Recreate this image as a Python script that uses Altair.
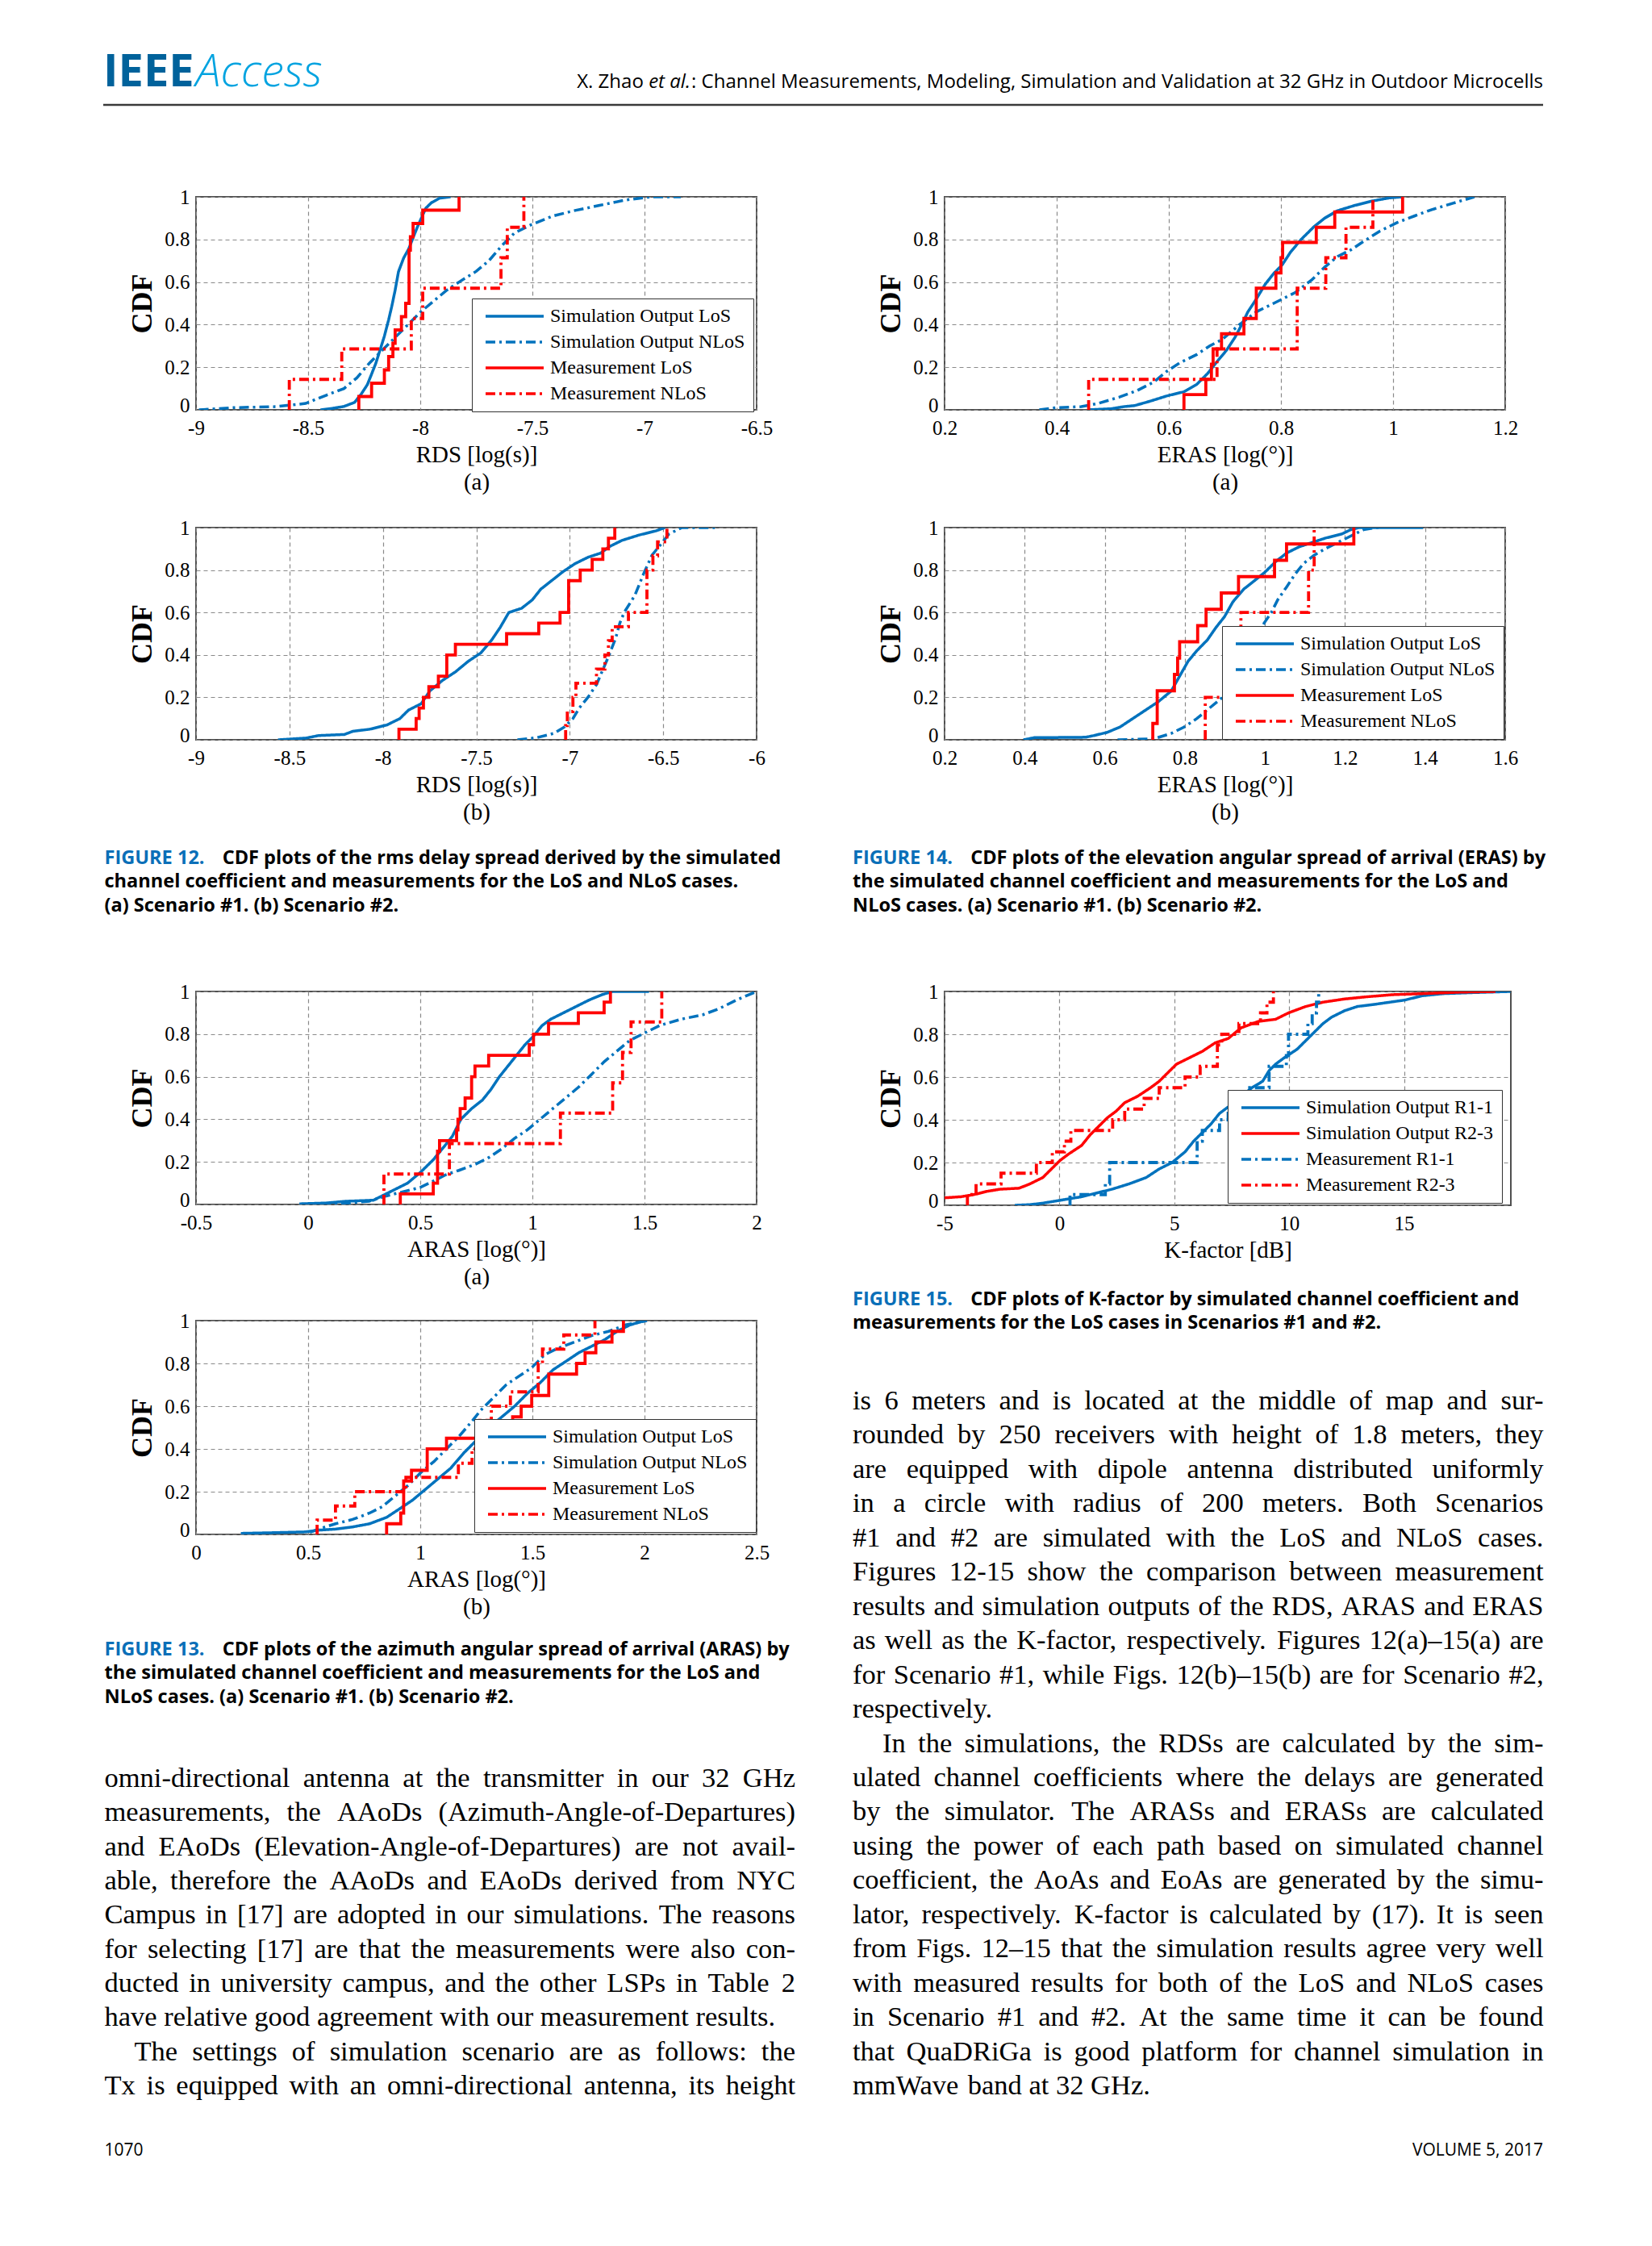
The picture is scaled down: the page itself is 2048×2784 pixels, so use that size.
import altair as alt
import pandas as pd

# ---------------------------------------------------------------- data
# Fig. 12(a)  RDS, scenario 1
s12a_los_x = [-8.445, -8.397, -8.340, -8.293, -8.264, -8.236, -8.217, -8.198, -8.179, -8.160, -8.141, -8.127, -8.112, -8.097, -8.074, -8.051, -8.032, -8.013, -7.994, -7.975, -7.951, -7.913, -7.865]
s12a_los_y = [0, 0.006, 0.016, 0.035, 0.073, 0.118, 0.168, 0.219, 0.282, 0.346, 0.423, 0.486, 0.562, 0.649, 0.713, 0.757, 0.808, 0.858, 0.903, 0.947, 0.972, 0.994, 1.0]
s12a_nlos_x = [-8.987, -8.835, -8.644, -8.511, -8.416, -8.340, -8.283, -8.226, -8.169, -8.112, -8.055, -7.998, -7.941, -7.884, -7.827, -7.751, -7.694, -7.637, -7.580, -7.504, -7.409, -7.314, -7.200, -7.086, -6.971, -6.838]
s12a_nlos_y = [0, 0.01, 0.015, 0.03, 0.07, 0.10, 0.15, 0.22, 0.28, 0.34, 0.40, 0.46, 0.51, 0.56, 0.60, 0.65, 0.70, 0.77, 0.83, 0.87, 0.91, 0.935, 0.96, 0.985, 1.0, 1.0]
m12a_los_x = [-8.274, -8.217, -8.160, -8.141, -8.122, -8.112, -8.084, -8.065, -8.050, -8.044, -8.032, -7.989, -7.827]
m12a_los_y = [0.0625, 0.125, 0.1875, 0.25, 0.3125, 0.375, 0.4375, 0.5, 0.75, 0.8125, 0.875, 0.9375, 1.0]
m12a_nlos_x = [-8.584, -8.350, -8.040, -7.989, -7.640, -7.612, -7.538]
m12a_nlos_y = [0.143, 0.286, 0.429, 0.571, 0.714, 0.857, 1.0]

# Fig. 12(b)  RDS, scenario 2
s12b_los_x = [-8.561, -8.412, -8.344, -8.206, -8.161, -8.069, -7.978, -7.909, -7.863, -7.795, -7.749, -7.681, -7.612, -7.543, -7.475, -7.418, -7.372, -7.326, -7.257, -7.200, -7.155, -7.097, -7.040, -6.972, -6.903, -6.834, -6.789, -6.720, -6.629, -6.537, -6.491]
s12b_los_y = [0, 0.008, 0.02, 0.025, 0.04, 0.05, 0.07, 0.10, 0.14, 0.17, 0.23, 0.28, 0.32, 0.37, 0.41, 0.47, 0.53, 0.60, 0.62, 0.66, 0.71, 0.75, 0.79, 0.83, 0.86, 0.88, 0.91, 0.94, 0.965, 0.985, 1.0]
s12b_nlos_x = [-7.280, -7.177, -7.086, -7.029, -6.983, -6.949, -6.903, -6.857, -6.823, -6.789, -6.754, -6.732, -6.709, -6.652, -6.606, -6.560, -6.514, -6.469, -6.400, -6.217]
s12b_nlos_y = [0, 0.01, 0.03, 0.06, 0.10, 0.15, 0.20, 0.26, 0.33, 0.40, 0.48, 0.55, 0.60, 0.68, 0.78, 0.87, 0.92, 0.97, 1.0, 1.0]
m12b_los_x = [-7.914, -7.822, -7.806, -7.783, -7.754, -7.703, -7.658, -7.612, -7.338, -7.166, -7.052, -7.006, -6.944, -6.880, -6.823, -6.793, -6.759]
m12b_los_y = [0.05, 0.10, 0.15, 0.20, 0.25, 0.30, 0.40, 0.45, 0.50, 0.55, 0.60, 0.75, 0.80, 0.85, 0.90, 0.95, 1.0]
m12b_nlos_x = [-7.022, -7.013, -6.983, -6.967, -6.857, -6.812, -6.793, -6.773, -6.686, -6.587, -6.555, -6.530, -6.480]
m12b_nlos_y = [0.067, 0.133, 0.2, 0.267, 0.333, 0.4, 0.467, 0.533, 0.6, 0.8, 0.867, 0.933, 1.0]

# Fig. 14(a)  ERAS, scenario 1
s14a_los_x = [0.455, 0.497, 0.520, 0.539, 0.566, 0.596, 0.627, 0.650, 0.669, 0.684, 0.703, 0.718, 0.730, 0.741, 0.756, 0.772, 0.787, 0.802, 0.817, 0.836, 0.859, 0.878, 0.901, 0.932, 0.962, 0.993, 1.016]
s14a_los_y = [0, 0.005, 0.015, 0.02, 0.04, 0.065, 0.085, 0.12, 0.17, 0.22, 0.28, 0.34, 0.40, 0.46, 0.52, 0.59, 0.64, 0.68, 0.74, 0.80, 0.86, 0.90, 0.935, 0.96, 0.98, 0.995, 1.0]
s14a_nlos_x = [0.369, 0.398, 0.444, 0.474, 0.512, 0.543, 0.573, 0.596, 0.619, 0.650, 0.673, 0.695, 0.726, 0.756, 0.787, 0.825, 0.855, 0.878, 0.901, 0.924, 0.947, 0.977, 1.008, 1.038, 1.069, 1.107, 1.145]
s14a_nlos_y = [0, 0.01, 0.015, 0.03, 0.06, 0.09, 0.13, 0.18, 0.22, 0.26, 0.30, 0.33, 0.40, 0.46, 0.50, 0.55, 0.61, 0.67, 0.72, 0.75, 0.79, 0.84, 0.88, 0.91, 0.94, 0.97, 1.0]
m14a_los_x = [0.627, 0.666, 0.676, 0.679, 0.694, 0.734, 0.756, 0.791, 0.800, 0.803, 0.863, 0.896, 1.017]
m14a_los_y = [0.0714, 0.143, 0.214, 0.286, 0.357, 0.429, 0.571, 0.643, 0.714, 0.786, 0.857, 0.929, 1.0]
m14a_nlos_x = [0.457, 0.686, 0.829, 0.880, 0.916, 0.964]
m14a_nlos_y = [0.143, 0.286, 0.571, 0.714, 0.857, 1.0]

# Fig. 14(b)  ERAS, scenario 2
s14b_los_x = [0.397, 0.424, 0.552, 0.573, 0.606, 0.638, 0.670, 0.702, 0.734, 0.766, 0.787, 0.808, 0.830, 0.856, 0.878, 0.899, 0.920, 0.947, 0.974, 1.000, 1.027, 1.054, 1.086, 1.118, 1.150, 1.192, 1.214, 1.235, 1.395]
s14b_los_y = [0, 0.01, 0.012, 0.02, 0.035, 0.06, 0.10, 0.14, 0.18, 0.23, 0.30, 0.37, 0.42, 0.47, 0.53, 0.58, 0.65, 0.71, 0.75, 0.79, 0.84, 0.88, 0.91, 0.93, 0.95, 0.97, 0.99, 1.0, 1.0]
s14b_nlos_x = [0.632, 0.723, 0.766, 0.798, 0.830, 0.862, 0.894, 0.936, 0.968, 0.998, 1.016, 1.032, 1.054, 1.075, 1.096, 1.123, 1.150, 1.182, 1.214, 1.246, 1.278, 1.288]
s14b_nlos_y = [0, 0.005, 0.03, 0.06, 0.10, 0.15, 0.20, 0.30, 0.42, 0.55, 0.60, 0.66, 0.72, 0.78, 0.83, 0.87, 0.90, 0.93, 0.96, 0.99, 1.0, 1.0]
m14b_los_x = [0.720, 0.731, 0.774, 0.782, 0.787, 0.832, 0.853, 0.891, 0.934, 1.024, 1.054, 1.222]
m14b_los_y = [0.077, 0.231, 0.308, 0.385, 0.462, 0.538, 0.615, 0.692, 0.769, 0.846, 0.923, 1.0]
m14b_nlos_x = [0.851, 0.940, 1.109, 1.123]
m14b_nlos_y = [0.2, 0.6, 0.8, 1.0]

# Fig. 13(a)  ARAS, scenario 1
s13a_los_x = [-0.039, 0.081, 0.167, 0.291, 0.329, 0.386, 0.443, 0.500, 0.558, 0.605, 0.643, 0.681, 0.729, 0.777, 0.815, 0.853, 0.891, 0.929, 0.967, 1.005, 1.043, 1.082, 1.139, 1.196, 1.253, 1.310, 1.358, 1.520]
s13a_los_y = [0.003, 0.007, 0.015, 0.02, 0.04, 0.07, 0.10, 0.15, 0.21, 0.27, 0.32, 0.40, 0.45, 0.49, 0.54, 0.60, 0.65, 0.70, 0.75, 0.79, 0.84, 0.87, 0.90, 0.93, 0.96, 0.985, 1.0, 1.0]
s13a_nlos_x = [-0.033, 0.157, 0.272, 0.348, 0.424, 0.500, 0.558, 0.615, 0.672, 0.748, 0.805, 0.862, 0.920, 0.977, 1.034, 1.091, 1.148, 1.205, 1.263, 1.320, 1.377, 1.434, 1.491, 1.567, 1.663, 1.758, 1.834, 1.910, 2.000]
s13a_nlos_y = [0, 0.005, 0.015, 0.04, 0.06, 0.08, 0.11, 0.14, 0.16, 0.19, 0.22, 0.26, 0.31, 0.35, 0.40, 0.45, 0.50, 0.55, 0.61, 0.67, 0.72, 0.77, 0.80, 0.84, 0.87, 0.89, 0.92, 0.96, 1.0]
m13a_los_x = [0.411, 0.558, 0.577, 0.586, 0.662, 0.668, 0.678, 0.700, 0.729, 0.744, 0.805, 0.986, 1.005, 1.072, 1.205, 1.320, 1.348]
m13a_los_y = [0.05, 0.10, 0.25, 0.30, 0.35, 0.40, 0.45, 0.50, 0.60, 0.65, 0.70, 0.75, 0.80, 0.85, 0.90, 0.95, 1.0]
m13a_nlos_x = [0.338, 0.630, 1.125, 1.358, 1.402, 1.440, 1.577]
m13a_nlos_y = [0.143, 0.286, 0.429, 0.571, 0.714, 0.857, 1.0]

# Fig. 13(b)  ARAS, scenario 2
s13b_los_x = [0.200, 0.337, 0.489, 0.546, 0.622, 0.698, 0.774, 0.850, 0.908, 0.965, 1.022, 1.079, 1.136, 1.193, 1.250, 1.307, 1.364, 1.421, 1.478, 1.535, 1.592, 1.650, 1.707, 1.764, 1.821, 1.878, 1.935, 2.002]
s13b_los_y = [0.005, 0.008, 0.012, 0.02, 0.025, 0.035, 0.05, 0.08, 0.12, 0.16, 0.21, 0.26, 0.31, 0.38, 0.44, 0.50, 0.55, 0.60, 0.66, 0.71, 0.77, 0.81, 0.85, 0.88, 0.91, 0.95, 0.98, 1.0]
s13b_nlos_x = [0.508, 0.546, 0.622, 0.698, 0.774, 0.831, 0.888, 0.946, 1.003, 1.060, 1.117, 1.174, 1.231, 1.269, 1.326, 1.383, 1.440, 1.497, 1.554, 1.611, 1.688, 1.764, 1.840, 1.916, 2.011]
s13b_nlos_y = [0.01, 0.025, 0.05, 0.07, 0.10, 0.13, 0.18, 0.23, 0.29, 0.34, 0.40, 0.46, 0.53, 0.58, 0.64, 0.70, 0.74, 0.78, 0.84, 0.87, 0.90, 0.93, 0.95, 0.98, 1.0]
m13b_los_x = [0.850, 0.913, 0.926, 0.961, 1.031, 1.117, 1.250, 1.412, 1.450, 1.497, 1.573, 1.697, 1.735, 1.783, 1.855, 1.906]
m13b_los_y = [0.05, 0.10, 0.25, 0.30, 0.40, 0.45, 0.50, 0.55, 0.60, 0.65, 0.75, 0.80, 0.85, 0.90, 0.95, 1.0]
m13b_nlos_x = [0.540, 0.622, 0.708, 0.936, 1.170, 1.231, 1.250, 1.265, 1.317, 1.402, 1.526, 1.545, 1.640, 1.779]
m13b_nlos_y = [0.067, 0.133, 0.2, 0.267, 0.333, 0.4, 0.467, 0.533, 0.6, 0.667, 0.8, 0.867, 0.933, 1.0]

# Fig. 15  K-factor
s15_r11_x = [-1.942, -1.285, -0.722, -0.159, 0.403, 0.966, 1.717, 2.280, 3.030, 3.780, 4.343, 4.906, 5.469, 5.844, 6.220, 6.595, 6.970, 7.345, 7.814, 8.377, 8.846, 9.128, 9.409, 9.784, 10.347, 10.722, 11.097, 11.473, 11.848, 12.411, 12.974, 13.724, 15.038, 15.788, 16.726, 18.039, 19.634]
s15_r11_y = [0, 0.003, 0.01, 0.02, 0.03, 0.04, 0.06, 0.075, 0.10, 0.13, 0.17, 0.20, 0.25, 0.30, 0.34, 0.38, 0.43, 0.46, 0.50, 0.55, 0.58, 0.63, 0.66, 0.69, 0.73, 0.77, 0.81, 0.85, 0.88, 0.91, 0.93, 0.94, 0.96, 0.98, 0.99, 0.995, 1.0]
s15_r23_x = [-5.0, -4.287, -3.724, -3.161, -2.598, -1.754, -1.285, -0.722, -0.347, 0.028, 0.403, 0.966, 1.341, 1.717, 2.092, 2.467, 2.842, 3.405, 3.968, 4.343, 4.718, 5.094, 5.657, 6.220, 6.782, 7.345, 7.908, 8.659, 9.409, 9.972, 10.722, 11.473, 12.411, 13.349, 14.475, 15.788, 17.477, 18.977]
s15_r23_y = [0.035, 0.04, 0.05, 0.065, 0.075, 0.08, 0.10, 0.13, 0.17, 0.21, 0.24, 0.28, 0.33, 0.37, 0.41, 0.44, 0.48, 0.51, 0.55, 0.58, 0.62, 0.66, 0.69, 0.72, 0.76, 0.78, 0.83, 0.86, 0.87, 0.90, 0.93, 0.95, 0.965, 0.975, 0.985, 0.99, 0.997, 1.0]
m15_r11_x = [0.460, 1.998, 2.186, 5.994, 6.220, 6.970, 7.345, 7.908, 8.283, 9.128, 9.878, 9.972, 10.816, 11.003, 11.191, 11.285]
m15_r11_y = [0.05, 0.10, 0.20, 0.30, 0.35, 0.40, 0.45, 0.50, 0.55, 0.65, 0.70, 0.80, 0.85, 0.90, 0.95, 1.0]
m15_r23_x = [-4.006, -3.630, -2.542, -1.004, -0.310, 0.216, 0.497, 2.317, 2.842, 3.687, 4.343, 5.469, 6.126, 6.876, 7.064, 7.814, 8.752, 9.034, 9.315]
m15_r23_y = [0.05, 0.10, 0.15, 0.20, 0.25, 0.30, 0.35, 0.40, 0.45, 0.50, 0.55, 0.60, 0.65, 0.75, 0.80, 0.85, 0.90, 0.95, 1.0]

# axis ticks / titles
ticks_12a = [-9, -8.5, -8, -7.5, -7, -6.5]
ticks_12b = [-9, -8.5, -8, -7.5, -7, -6.5, -6]
ticks_14a = [0.2, 0.4, 0.6, 0.8, 1, 1.2]
ticks_14b = [0.2, 0.4, 0.6, 0.8, 1, 1.2, 1.4, 1.6]
ticks_13a = [-0.5, 0, 0.5, 1, 1.5, 2]
ticks_13b = [0, 0.5, 1, 1.5, 2, 2.5]
ticks_15 = [-5, 0, 5, 10, 15]
ticks_cdf = [0, 0.2, 0.4, 0.6, 0.8, 1]

names_los = ["Simulation Output LoS", "Simulation Output NLoS", "Measurement LoS", "Measurement NLoS"]
names_k = ["Simulation Output R1-1", "Simulation Output R2-3", "Measurement R1-1", "Measurement R2-3"]

# ---------------------------------------------------------------- text
HEAD_AUTHOR = "X. Zhao"
HEAD_ETAL = "et al."
HEAD_REST = ": Channel Measurements, Modeling, Simulation and Validation at 32 GHz in Outdoor Microcells"
FOOT_PAGE = "1070"
FOOT_VOL = "VOLUME 5, 2017"

CAP12 = ["FIGURE 12.", "CDF plots of the rms delay spread derived by the simulated",
         "channel coefficient and measurements for the LoS and NLoS cases.",
         "(a) Scenario #1. (b) Scenario #2."]
CAP14 = ["FIGURE 14.", "CDF plots of the elevation angular spread of arrival (ERAS) by",
         "the simulated channel coefficient and measurements for the LoS and",
         "NLoS cases. (a) Scenario #1. (b) Scenario #2."]
CAP13 = ["FIGURE 13.", "CDF plots of the azimuth angular spread of arrival (ARAS) by",
         "the simulated channel coefficient and measurements for the LoS and",
         "NLoS cases. (a) Scenario #1. (b) Scenario #2."]
CAP15 = ["FIGURE 15.", "CDF plots of K-factor by simulated channel coefficient and",
         "measurements for the LoS cases in Scenarios #1 and #2."]

LEFT_TEXT = [
    ("omni-directional antenna at the transmitter in our 32 GHz", True),
    ("measurements, the AAoDs (Azimuth-Angle-of-Departures)", True),
    ("and EAoDs (Elevation-Angle-of-Departures) are not avail-", True),
    ("able, therefore the AAoDs and EAoDs derived from NYC", True),
    ("Campus in [17] are adopted in our simulations. The reasons", True),
    ("for selecting [17] are that the measurements were also con-", True),
    ("ducted in university campus, and the other LSPs in Table 2", True),
    ("have relative good agreement with our measurement results.", False),
    ("\tThe settings of simulation scenario are as follows: the", True),
    ("Tx is equipped with an omni-directional antenna, its height", True),
]
RIGHT_TEXT = [
    ("is 6 meters and is located at the middle of map and sur-", True),
    ("rounded by 250 receivers with height of 1.8 meters, they", True),
    ("are equipped with dipole antenna distributed uniformly", True),
    ("in a circle with radius of 200 meters. Both Scenarios", True),
    ("#1 and #2 are simulated with the LoS and NLoS cases.", True),
    ("Figures 12-15 show the comparison between measurement", True),
    ("results and simulation outputs of the RDS, ARAS and ERAS", True),
    ("as well as the K-factor, respectively. Figures 12(a)\u201315(a) are", True),
    ("for Scenario #1, while Figs. 12(b)\u201315(b) are for Scenario #2,", True),
    ("respectively.", False),
    ("\tIn the simulations, the RDSs are calculated by the sim-", True),
    ("ulated channel coefficients where the delays are generated", True),
    ("by the simulator. The ARASs and ERASs are calculated", True),
    ("using the power of each path based on simulated channel", True),
    ("coefficient, the AoAs and EoAs are generated by the simu-", True),
    ("lator, respectively. K-factor is calculated by (17). It is seen", True),
    ("from Figs. 12\u201315 that the simulation results agree very well", True),
    ("with measured results for both of the LoS and NLoS cases", True),
    ("in Scenario #1 and #2. At the same time it can be found", True),
    ("that QuaDRiGa is good platform for channel simulation in", True),
    ("mmWave band at 32 GHz.", False),
]

# ---------------------------------------------------------------- styles
BLUE = "#0072BD"
RED = "#FF0000"
SOLID = [1, 0]
DASHDOT = [12, 5, 3, 5]
SERIF = "Liberation Serif"
SANS = "Open Sans"
CAP_BLUE = "#0a6fb8"

# approximate font metrics (for text layout only)
OS_W = {' ': .26, '.': .266, ',': .245, ':': .266, '-': .322, '(': .296, ')': .296, '#': .646}
for c in "0123456789":
    OS_W[c] = .572
OS_W.update(dict(A=.633, B=.648, C=.631, D=.729, E=.556, F=.516, G=.728, H=.738, I=.279, J=.267, K=.614,
                 L=.519, M=.903, N=.754, O=.779, P=.602, Q=.779, R=.618, S=.549, T=.553, U=.728, V=.595,
                 W=.926, X=.577, Y=.56, Z=.571,
                 a=.556, b=.613, c=.476, d=.613, e=.561, f=.339, g=.548, h=.614, i=.253, j=.253, k=.525,
                 l=.253, m=.930, n=.614, o=.604, p=.613, q=.613, r=.408, s=.477, t=.353, u=.614, v=.501,
                 w=.778, x=.524, y=.502, z=.477))

TNR = {' ': 250, '!': 333, '#': 500, '(': 333, ')': 333, ',': 250, '-': 333, '.': 250, ':': 278, ';': 278,
       '[': 333, ']': 333, '\u2013': 500}
for c in "0123456789":
    TNR[c] = 500
TNR.update(dict(A=722, B=667, C=667, D=722, E=611, F=556, G=722, H=722, I=333, J=389, K=722, L=611, M=889,
                N=722, O=722, P=556, Q=722, R=667, S=556, T=611, U=722, V=722, W=944, X=722, Y=722, Z=611,
                a=444, b=500, c=444, d=500, e=444, f=333, g=500, h=500, i=278, j=278, k=500, l=278, m=778,
                n=500, o=500, p=500, q=500, r=333, s=389, t=278, u=500, v=500, w=722, x=500, y=500, z=444))


def os_em(s, bold=False, italic=False):
    f = 1.06 if bold else (0.96 if italic else 1.0)
    return sum(OS_W.get(ch, 0.55) for ch in s) * f


def tnr_px(s, size):
    return sum(TNR.get(ch, 500) for ch in s) / 1000.0 * size


# ---------------------------------------------------------------- helpers
def spacer(w, h):
    return alt.Chart(pd.DataFrame({'t': [' ']})).mark_text(
        opacity=0, fontSize=1, baseline='top', align='left').encode(
        text='t:N', x=alt.value(0), y=alt.value(0)).properties(width=w, height=h)


def text_layer(df, align='left', **kw):
    return alt.Chart(df).mark_text(align=align, baseline='alphabetic', **kw).encode(
        x=alt.X('x:Q', scale=None, axis=None),
        y=alt.Y('y:Q', scale=None, axis=None),
        text='t:N')


def lab_expr():
    return "datum.value + ''"


def cdf_chart(curves, names, colors, dashes, xdom, xticks, xtitle, width, height, legend_xy):
    rows = []
    for name, kind, xs, ys in curves:
        pts = ([(xs[0], 0.0)] if kind == 'meas' else []) + list(zip(xs, ys))
        for i, (a, b) in enumerate(pts):
            rows.append({'series': name, 'kind': kind, 'x': a, 'y': b, 'i': i})
    df = pd.DataFrame(rows)
    if legend_xy is not None:
        leg = alt.Legend(orient='none', legendX=legend_xy[0], legendY=legend_xy[1], title=None,
                         padding=10, symbolOffset=5, rowPadding=8, clipHeight=24,
                         labelFont=SERIF, labelFontSize=24, labelColor='black', labelLimit=600,
                         labelOffset=6, symbolType='stroke', symbolSize=5184, symbolStrokeWidth=3.5,
                         strokeColor='#333333', fillColor='white', cornerRadius=0)
    else:
        leg = None
    xaxis = alt.Axis(values=xticks, labelExpr=lab_expr(), grid=True, gridDash=[5, 4], gridColor='#8a8a8a',
                     gridWidth=1.2, domain=False, ticks=False, labelFont=SERIF, labelFontSize=25,
                     labelColor='black', labelPadding=10, labelFlush=False, labelOverlap=False,
                     title=xtitle, titleFont=SERIF, titleFontSize=29, titleFontWeight='normal',
                     titleColor='black', titlePadding=6, titleLineHeight=34)
    yaxis = alt.Axis(values=ticks_cdf, labelExpr=lab_expr(), grid=True, gridDash=[5, 4], gridColor='#8a8a8a',
                     gridWidth=1.2, domain=False, ticks=False, labelFont=SERIF, labelFontSize=25,
                     labelColor='black', labelPadding=8, labelFlush=False, labelOverlap=False,
                     labelOffset={'condition': {'test': 'datum.value == 0', 'value': -6}, 'value': 0},
                     title='CDF', titleFont=SERIF, titleFontSize=36, titleFontWeight='bold',
                     titleColor='black', titlePadding=8)
    base = alt.Chart(df).encode(
        x=alt.X('x:Q', scale=alt.Scale(domain=xdom, nice=False, zero=False), axis=xaxis),
        y=alt.Y('y:Q', scale=alt.Scale(domain=[0, 1], nice=False, zero=False), axis=yaxis),
        color=alt.Color('series:N', scale=alt.Scale(domain=names, range=colors), legend=leg),
        strokeDash=alt.StrokeDash('series:N', scale=alt.Scale(domain=names, range=dashes), legend=leg),
        order=alt.Order('i:Q'),
    )
    sim = base.transform_filter("datum.kind == 'sim'").mark_line(strokeWidth=3.5, clip=True)
    meas = base.transform_filter("datum.kind == 'meas'").mark_line(strokeWidth=3.8, interpolate='step-after',
                                                                  clip=True)
    return alt.layer(sim, meas).properties(width=width, height=height,
                                           view=alt.ViewBackground(stroke='#505050', strokeWidth=2))


def los_chart(sl, sn, ml, mn, xdom, xticks, xtitle, w, h, leg):
    curves = [(names_los[0], 'sim', sl[0], sl[1]), (names_los[1], 'sim', sn[0], sn[1]),
              (names_los[2], 'meas', ml[0], ml[1]), (names_los[3], 'meas', mn[0], mn[1])]
    return cdf_chart(curves, names_los, [BLUE, BLUE, RED, RED], [SOLID, DASHDOT, SOLID, DASHDOT],
                     xdom, xticks, xtitle, w, h, leg)


# caption font size from the measured line widths of the original
cap_targets = [(CAP12, 830), (CAP14, 852), (CAP13, 844), (CAP15, 819)]
cap_size = sum(t / (os_em(c[0], True) + 0.8 + os_em(c[1], True)) for c, t in cap_targets) / len(cap_targets)
CAP_LH = 29.3


def caption_layers(lines, x0, y0):
    pre = pd.DataFrame({'x': [x0], 'y': [y0], 't': [lines[0]]})
    xr = x0 + os_em(lines[0], True) * cap_size + 0.8 * cap_size
    rows = [{'x': xr, 'y': y0, 't': lines[1]}]
    for k, s in enumerate(lines[2:]):
        rows.append({'x': x0, 'y': y0 + (k + 1) * CAP_LH, 't': s})
    return [text_layer(pre, font=SANS, fontSize=cap_size, fontWeight='bold', color=CAP_BLUE),
            text_layer(pd.DataFrame(rows), font=SANS, fontSize=cap_size, fontWeight='bold', color='black')]


BODY_SIZE = 34.5
BODY_W = 856.5
INDENT = 37.0


def body_layers(lines, x0, y0, lh):
    lefts, rights = [], []
    for k, (txt, just) in enumerate(lines):
        ind = 0.0
        if txt.startswith('\t'):
            ind = INDENT
            txt = txt[1:]
        words = txt.split(' ')
        ww = [tnr_px(w, BODY_SIZE) for w in words]
        gap = 0.25 * BODY_SIZE
        if just and len(words) > 1:
            gap = max((BODY_W - ind - sum(ww)) / (len(words) - 1), 0.15 * BODY_SIZE)
        x = x0 + ind
        y = y0 + k * lh
        for j, (w, wd) in enumerate(zip(words, ww)):
            if just and j == len(words) - 1 and len(words) > 1:
                rights.append({'x': x0 + BODY_W, 'y': y, 't': w})
            else:
                lefts.append({'x': x, 'y': y, 't': w})
            x += wd + gap
    out = [text_layer(pd.DataFrame(lefts), font=SERIF, fontSize=BODY_SIZE, color='black')]
    if rights:
        out.append(text_layer(pd.DataFrame(rights), align='right', font=SERIF, fontSize=BODY_SIZE,
                              color='black'))
    return out


# ---------------------------------------------------------------- panels
f12a = los_chart((s12a_los_x, s12a_los_y), (s12a_nlos_x, s12a_nlos_y), (m12a_los_x, m12a_los_y),
                 (m12a_nlos_x, m12a_nlos_y), [-9, -6.5], ticks_12a, ["RDS [log(s)]", "(a)"], 695, 264, (342, 126))
f12b = los_chart((s12b_los_x, s12b_los_y), (s12b_nlos_x, s12b_nlos_y), (m12b_los_x, m12b_los_y),
                 (m12b_nlos_x, m12b_nlos_y), [-9, -6], ticks_12b, ["RDS [log(s)]", "(b)"], 695, 263, None)
f14a = los_chart((s14a_los_x, s14a_los_y), (s14a_nlos_x, s14a_nlos_y), (m14a_los_x, m14a_los_y),
                 (m14a_nlos_x, m14a_nlos_y), [0.2, 1.2], ticks_14a, ["ERAS [log(\u00b0)]", "(a)"], 695, 264, None)
f14b = los_chart((s14b_los_x, s14b_los_y), (s14b_nlos_x, s14b_nlos_y), (m14b_los_x, m14b_los_y),
                 (m14b_nlos_x, m14b_nlos_y), [0.2, 1.6], ticks_14b, ["ERAS [log(\u00b0)]", "(b)"], 695, 263, (344, 122))
f13a = los_chart((s13a_los_x, s13a_los_y), (s13a_nlos_x, s13a_nlos_y), (m13a_los_x, m13a_los_y),
                 (m13a_nlos_x, m13a_nlos_y), [-0.5, 2], ticks_13a, ["ARAS [log(\u00b0)]", "(a)"], 695, 264, None)
f13b = los_chart((s13b_los_x, s13b_los_y), (s13b_nlos_x, s13b_nlos_y), (m13b_los_x, m13b_los_y),
                 (m13b_nlos_x, m13b_nlos_y), [0, 2.5], ticks_13b, ["ARAS [log(\u00b0)]", "(b)"], 695, 265, (345, 122))
f15 = cdf_chart([(names_k[0], 'sim', s15_r11_x, s15_r11_y), (names_k[1], 'sim', s15_r23_x, s15_r23_y),
                 (names_k[2], 'meas', m15_r11_x, m15_r11_y), (names_k[3], 'meas', m15_r23_x, m15_r23_y)],
                names_k, [BLUE, RED, BLUE, RED], [SOLID, SOLID, DASHDOT, DASHDOT],
                [-5, 19.65], ticks_15, "K-factor [dB]", 702, 265, (351, 122))

# header (cell origin = page (8, 8))
title_size = 1198.0 / (os_em(HEAD_AUTHOR + ' ') + os_em(HEAD_ETAL, italic=True) + os_em(HEAD_REST))
w_rest = os_em(HEAD_REST) * title_size
w_etal = os_em(HEAD_ETAL, italic=True) * title_size
w_sp = OS_W[' '] * title_size
logo_size = 56
hdr_layers = [
    text_layer(pd.DataFrame({'x': [120], 'y': [99], 't': ["IEEE"]}), font=SANS, fontSize=logo_size,
               fontWeight='bold', color='#00629B'),
    text_layer(pd.DataFrame({'x': [120 + os_em("IEEE", True) * logo_size - 1], 'y': [99], 't': ["Access"]}),
               font=SANS, fontSize=logo_size, fontStyle='italic', fontWeight=300, color='#00A3E0'),
    text_layer(pd.DataFrame({'x': [1905], 'y': [101], 't': [HEAD_REST]}), align='right', font=SANS,
               fontSize=title_size, color='black'),
    text_layer(pd.DataFrame({'x': [1905 - w_rest], 'y': [101], 't': [HEAD_ETAL]}), align='right', font=SANS,
               fontSize=title_size, fontStyle='italic', color='black'),
    text_layer(pd.DataFrame({'x': [1905 - w_rest - w_etal - w_sp], 'y': [101], 't': [HEAD_AUTHOR]}),
               align='right', font=SANS, fontSize=title_size, color='black'),
    alt.Chart(pd.DataFrame({'a': [0]})).mark_rule(color='#3a3a3a', strokeWidth=2.5).encode(
        x=alt.value(120), x2=alt.value(1905), y=alt.value(122)),
]
HDR = alt.layer(*hdr_layers).properties(width=235, height=236)

C12 = alt.layer(*caption_layers(CAP12, 121.5, 154)).properties(width=235, height=312)
C14 = alt.layer(*caption_layers(CAP14, 119, 154)).properties(width=233, height=312)

B15 = alt.layer(*caption_layers(CAP15, 119, 124),
                *body_layers(RIGHT_TEXT, 119, 253, 42.45),
                text_layer(pd.DataFrame({'x': [975], 'y': [1178], 't': [FOOT_VOL]}), align='right',
                           font=SANS, fontSize=21, color='black')).properties(width=233, height=143)
B13 = alt.layer(*caption_layers(CAP13, 121.5, 150),
                *body_layers(LEFT_TEXT, 121.5, 313, 42.35),
                text_layer(pd.DataFrame({'x': [121.5], 'y': [770], 't': [FOOT_PAGE]}),
                           font=SANS, fontSize=21, color='black')).properties(width=235, height=874)


def S():
    return spacer(1, 1)


cells = [
    HDR, S(), S(), S(),
    S(), f12a, S(), f14a,
    spacer(1, 146), S(), S(), S(),
    S(), f12b, S(), f14b,
    C12, S(), C14, S(),
    S(), f13a, S(), f15,
    spacer(1, 143), S(), B15, S(),
    S(), f13b, S(), S(),
    B13, S(), S(), S(),
]

chart = alt.concat(*cells, columns=4, spacing=0, bounds='flush', align='each').resolve_scale(
    color='independent', strokeDash='independent', x='independent', y='independent'
).resolve_legend(color='independent', strokeDash='independent').properties(
    padding=0
).configure(background='white').configure_view(stroke='transparent', strokeWidth=0)

chart.save("out.html", embed_options={"renderer": "svg", "actions": False})
